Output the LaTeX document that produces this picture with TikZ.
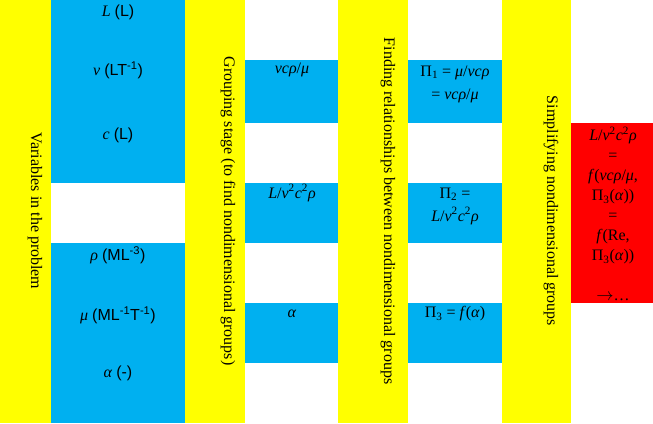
\documentclass[tikz,border=0pt]{standalone}
\usepackage{fontspec}
\setmainfont{Liberation Serif}
\setsansfont{Liberation Sans}
\usepackage{xcolor}
\usepackage{tikz}
\definecolor{stageyellow}{HTML}{FFFF00}
\definecolor{varblue}{HTML}{00B0F0}
\definecolor{resultred}{HTML}{FF0000}
\begin{document}
\begin{tikzpicture}[x=1pt,y=-1pt,
	stagebar/.style={fill=stageyellow},
	varbox/.style={fill=varblue},
	resultbox/.style={fill=resultred},
	lbl/.style={font=\fontsize{16}{20}\selectfont, inner sep=0pt, align=center},
	stagelbl/.style={lbl, rotate=-90}]
			\useasboundingbox (0,0) rectangle (653,423);
			\fill[stagebar] (0,0) rectangle (51,423);
			\fill[varbox] (51,0) rectangle (185,183);
			\fill[varbox] (51,243) rectangle (185,423);
			\fill[stagebar] (185,0) rectangle (245,423);
			\fill[varbox] (245,60) rectangle (338,123);
			\fill[varbox] (245,183) rectangle (338,243);
			\fill[varbox] (245,303) rectangle (338,363);
			\fill[stagebar] (338,0) rectangle (408,423);
			\fill[varbox] (408,60) rectangle (502,123);
			\fill[varbox] (408,183) rectangle (502,243);
			\fill[varbox] (408,303) rectangle (502,363);
			\fill[stagebar] (502,0) rectangle (571,423);
			\fill[resultbox] (571,123) rectangle (653,303);
			\node[stagelbl] (variables) at (35,211) {Variables in the problem};
			\node[stagelbl] (grouping) at (228,211) {Grouping stage (to find nondimensional groups)};
			\node[stagelbl] (finding) at (388,211) {Finding relationships between nondimensional groups};
			\node[stagelbl] (simplifying) at (551,211) {Simplifying nondimensional groups};
			\node[lbl] (varL) at (118,12) {\textit{L} \textsf{(L)}};
			\node[lbl] (varv) at (118,70) {\textit{v} \textsf{(LT\textsuperscript{-1})}};
			\node[lbl] (varc) at (118,135) {\textit{c} \textsf{(L)}};
			\node[lbl] (varrho) at (118,255) {\textit{ρ} \textsf{(ML\textsuperscript{-3})}};
			\node[lbl] (varmu) at (118,315) {\textit{μ} \textsf{(ML\textsuperscript{-1}T\textsuperscript{-1})}};
			\node[lbl] (varalpha) at (118,373) {\textit{α} \textsf{(-)}};
			\node[lbl] (groupone) at (292,70) {\textit{vcρ}/\textit{μ}};
			\node[lbl] (grouptwo) at (292,193) {\textit{L}/\textit{v}\textsuperscript{2}\textit{c}\textsuperscript{2}\textit{ρ}};
			\node[lbl] (groupthree) at (292,314) {\textit{α}};
			\node[lbl, font=\fontsize{16}{23}\selectfont] (pione) at (455,84) {Π\textsubscript{1} = \textit{μ}/\textit{vcρ}\\= \textit{vcρ}/\textit{μ}};
			\node[lbl, font=\fontsize{16}{23}\selectfont] (pitwo) at (455,206) {Π\textsubscript{2} =\\\textit{L}/\textit{v}\textsuperscript{2}\textit{c}\textsuperscript{2}\textit{ρ}};
			\node[lbl] (pithree) at (455,314) {Π\textsubscript{3} = \textit{f}(\textit{α})};
			\node[lbl] (result) at (613,214) {\textit{L}/\textit{v}\textsuperscript{2}\textit{c}\textsuperscript{2}\textit{ρ}\\=\\\textit{f}(\textit{vcρ}/\textit{μ},\\Π\textsubscript{3}(\textit{α}))\\=\\\textit{f}(Re,\\Π\textsubscript{3}(\textit{α}))\\[20pt]$\rightarrow$…};
		\end{tikzpicture}
\end{document}
